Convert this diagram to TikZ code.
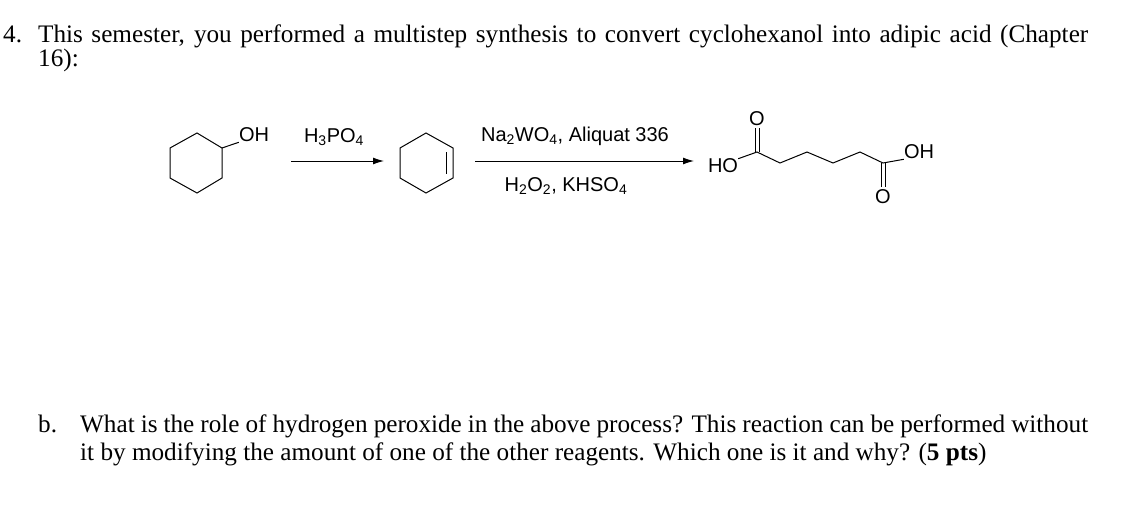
\documentclass[tikz,border=0pt]{standalone}
\usepackage{fontspec}
\setmainfont{Liberation Serif}
\newfontfamily\chemfont{Liberation Sans}
\usetikzlibrary{arrows.meta}
\begin{document}
\begin{tikzpicture}[x=1pt,y=-1pt,
  txt/.style={anchor=base west,inner sep=0pt,font=\fontsize{25.2}{30}\selectfont},
  chem/.style={inner sep=0pt,font=\chemfont\fontsize{20}{22}\selectfont},
  bond/.style={line width=1pt},
  rxn/.style={line width=1pt,-{Latex[length=11pt,width=7pt]}}]
\useasboundingbox (0,0) rectangle (1125,520);
% question text
\node[txt] (n4) at (3,42) {4.};
\node[txt] (l1) at (38,42) {\makebox[1050pt][s]{This semester, you performed a multistep synthesis to convert cyclohexanol into adipic acid (Chapter}};
\node[txt] (l2) at (38,66) {16):};
\node[txt] (nb) at (38,432) {b.};
\node[txt] (b1) at (80,432) {\makebox[1008pt][s]{What is the role of hydrogen peroxide in the above process? This reaction can be performed without}};
\node[txt] (b2) at (80,460) {it by modifying the amount of one of the other reagents. Which one is it and why? (\textbf{5 pts})};
% cyclohexanol
\draw[bond] (197,133) -- (222,148) -- (222,178) -- (197,193) -- (170,178) -- (170,148) -- cycle;
\node[chem] (oh1) at (254,135) {OH};
\draw[bond] (222,148) -- (oh1.south west);
% arrow 1
\coordinate (a1s) at (291,161);
\coordinate (a1e) at (384,161);
\draw[rxn] (a1s) -- (a1e);
\node[chem] (r1) at (334,137) {H\textsubscript{3}PO\textsubscript{4}};
% cyclohexene
\draw[bond] (426,133) -- (453,148) -- (453,178) -- (426,193) -- (400,178) -- (400,148) -- cycle;
\draw[bond] (446,152) -- (446,174);
% arrow 2
\coordinate (a2s) at (475,161);
\coordinate (a2e) at (694,161);
\draw[rxn] (a2s) -- (a2e);
\node[chem] (r2) at (575,136) {Na\textsubscript{2}WO\textsubscript{4}, Aliquat 336};
\node[chem] (r3) at (566,186) {H\textsubscript{2}O\textsubscript{2}, KHSO\textsubscript{4}};
% adipic acid
\node[chem] (ho) at (723,166) {HO};
\node[chem] (o1) at (757,119) {O};
\node[chem] (o2) at (883,197) {O};
\node[chem] (oh2) at (919,152) {OH};
\draw[bond] (ho.north east) -- (757,152) -- (780,163) -- (807,152) -- (833,163) -- (860,152) -- (883,163) -- (oh2.south west);
\draw[bond] (755,152) -- (755,128);
\draw[bond] (759.5,152) -- (759.5,128);
\draw[bond] (881,163) -- (881,187);
\draw[bond] (885.5,163) -- (885.5,187);
\end{tikzpicture}
\end{document}
